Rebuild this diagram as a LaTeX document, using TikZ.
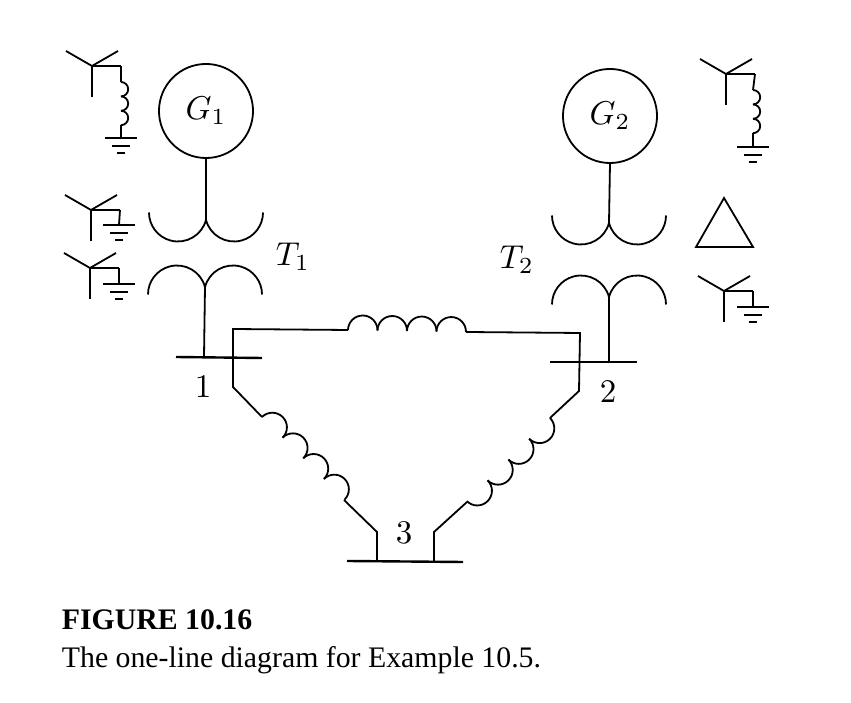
\documentclass[tikz,border=0pt]{standalone}
\usepackage{amsmath}
\usepackage{fontspec}
\setmainfont{Liberation Serif}
\usetikzlibrary{positioning, calc}
\tikzstyle{gen}=[draw,circle,minimum size=28.5pt,inner sep=0pt,outer sep=0pt,scale=3.3]
\tikzstyle{lbl}=[inner sep=0pt,scale=3.3]
\tikzstyle{busbar}=[line width=2.4pt]
\tikzstyle{captext}=[inner sep=0pt,anchor=base west,font=\fontsize{29.8}{32}\selectfont]
\tikzset{
  pics/wye/.style={code={
    \coordinate (-n) at (29,0);
    \draw (-26,15) -- (0,0) -- (26,15);
    \draw (0,-31) -- (0,0) -- (-n);
  }},
  pics/ground/.style={code={
    \draw (-16,0) -- (16,0);
    \draw (-9,-8) -- (9,-8);
    \draw (-4,-15) -- (4,-15);
  }},
  pics/coil/.style n args={2}{code={
    \foreach \k in {1,...,#1}
      \draw ({(2*\k-2)*#2},0) arc (180:0:#2);
  }},
  pics/tdown/.style={code={
    \draw (0,0) arc (-15:-180:29);
    \draw (0,0) arc (195:360:29);
  }},
  pics/tup/.style={code={
    \draw (0,0) arc (15:180:29);
    \draw (0,0) arc (165:0:29);
  }}
}

\begin{document}
\begin{tikzpicture}[x=1pt,y=1pt,line width=1.8pt]
    \useasboundingbox (0,0) rectangle (851,703);

    % generators
    \node [gen] (G1) at (206,592) {$G_1$};
    \node [gen] (G2) at (610,587) {$G_2$};

    % transformers
    \coordinate (t1a) at (206,483);
    \coordinate (t1b) at (205,416);
    \coordinate (t2a) at (609,480);
    \coordinate (t2b) at (609,406);
    \pic at (t1a) {tdown};
    \pic at (t1b) {tup};
    \pic at (t2a) {tdown};
    \pic at (t2b) {tup};
    \node [lbl] (T1) at (293,446) {$T_1$};
    \node [lbl] (T2) at (517,443) {$T_2$};

    % buses
    \coordinate (b1l) at (176,346);
    \coordinate (b1r) at (262,345);
    \coordinate (b2l) at (550,341);
    \coordinate (b2r) at (637,341);
    \coordinate (b3l) at (347,142);
    \coordinate (b3r) at (463,141);
    \draw [busbar] (b1l) -- (b1r);
    \draw [busbar] (b2l) -- (b2r);
    \draw [busbar] (b3l) -- (b3r);
    \node [lbl] (n1) at (203,316) {$1$};
    \node [lbl] (n2) at (608,311) {$2$};
    \node [lbl] (n3) at (404,170) {$3$};

    \coordinate (s1) at (204,346);
    \coordinate (s2) at (609,341);
    \draw (G1.south) -- (t1a);
    \draw (G2.south) -- (t2a);
    \draw (t1b) -- (s1);
    \draw (t2b) -- (s2);

    % lines between the buses
    \coordinate (la) at (233,374);
    \coordinate (lb) at (233,316);
    \coordinate (ra) at (580,370);
    \coordinate (rb) at (579,312);
    \coordinate (ca) at (348,373);
    \coordinate (cb) at (466,371);
    \coordinate (da) at (262,286);
    \coordinate (db) at (344,203);
    \coordinate (ea) at (550,285);
    \coordinate (eb) at (467,201);
    \coordinate (f1) at (377,171);
    \coordinate (f2) at (377,142);
    \coordinate (h1) at (434,171);
    \coordinate (h2) at (434,141);
    \pic [rotate=-1] at (ca) {coil={4}{14.75}};
    \pic [rotate=-45] at (da) {coil={4}{14.6}};
    \pic [rotate=225] at (ea) {coil={4}{14.7}};
    \draw (ca) -- (la) -- (lb) -- (da);
    \draw (cb) -- (ra) -- (rb) -- (ea);
    \draw (db) -- (f1) -- (f2);
    \draw (eb) -- (h1) -- (h2);

    % winding connections, left
    \coordinate (wa) at (92,637);
    \coordinate (wb) at (91,493);
    \coordinate (wc) at (90,435);
    \pic (ya) at (wa) {wye};
    \pic (yb) at (wb) {wye};
    \pic (yc) at (wc) {wye};
    \coordinate (ga) at (121,565);
    \coordinate (gb) at (119,478);
    \coordinate (gc) at (119,419);
    \pic at (ga) {ground};
    \pic at (gb) {ground};
    \pic at (gc) {ground};
    \coordinate (ka) at (121,621);
    \coordinate (kb) at (121,578);
    \pic [rotate=-90] at (ka) {coil={3}{7.2}};
    \draw (ya-n) -- (ka);
    \draw (kb) -- (ga);
    \draw (yb-n) -- (gb);
    \draw (yc-n) -- (gc);

    % winding connections, right
    \coordinate (wd) at (726,629);
    \coordinate (we) at (724,412);
    \pic (yd) at (wd) {wye};
    \pic (ye) at (we) {wye};
    \coordinate (gd) at (753,556);
    \coordinate (ge) at (753,396);
    \pic at (gd) {ground};
    \pic at (ge) {ground};
    \coordinate (kc) at (753,613);
    \coordinate (kd) at (753,570);
    \pic [rotate=-90] at (kc) {coil={3}{7.2}};
    \draw (yd-n) -- (kc);
    \draw (kd) -- (gd);
    \draw (ye-n) -- (ge);
    \coordinate (dt) at (724,505);
    \coordinate (dr) at (753,456);
    \coordinate (dl) at (696,456);
    \draw (dt) -- (dr) -- (dl) -- cycle;

    % caption
    \node [captext] (fig) at (61,73) {\textbf{FIGURE 10.16}};
    \node [captext] (txt) at (61,35) {The one-line diagram for Example 10.5.};
\end{tikzpicture}
\end{document}
